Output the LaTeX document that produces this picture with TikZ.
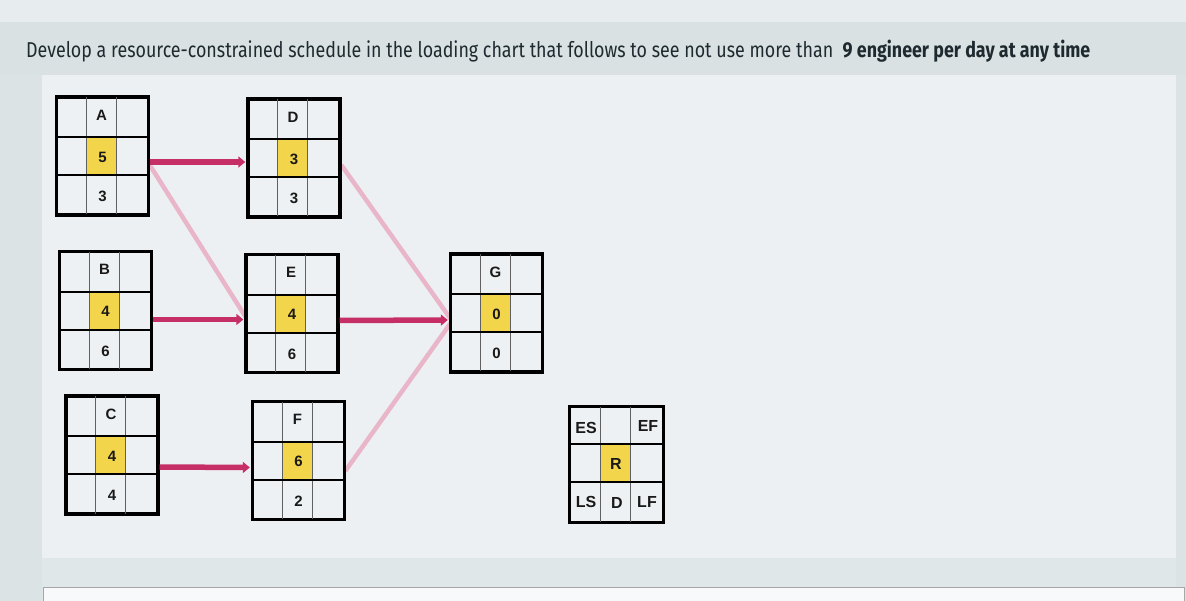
\documentclass[tikz,border=0pt]{standalone}
\usepackage{fontspec}
\usepackage{graphicx}
\setmainfont{Liberation Sans}
\newfontfamily\headfont{Fira Sans}
\usetikzlibrary{calc,arrows.meta}
\definecolor{bgtop}{HTML}{E7ECEE}
\definecolor{bghead}{HTML}{D9E1E3}
\definecolor{bgside}{HTML}{DCE3E5}
\definecolor{panel}{HTML}{EDF0F2}
\definecolor{cellbg}{HTML}{EEF1F3}
\definecolor{hilite}{HTML}{F2D54A}
\definecolor{magarrow}{HTML}{C52F66}
\definecolor{pinkline}{HTML}{E8B6C8}
\definecolor{txt}{HTML}{1E2A30}
\tikzset{
  actbox/.style={draw=black, line width=2.4pt, minimum width=91pt, minimum height=117pt, inner sep=0pt, fill=cellbg},
  colline/.style={draw=gray!75!black, line width=1.3pt},
  rowline/.style={draw=black, line width=2pt},
  celltxt/.style={font=\bfseries\fontsize{15}{15}\selectfont, text=black!90, inner sep=0pt},
  legtxt/.style={font=\bfseries\fontsize{16}{16}\selectfont, text=black!90, inner sep=0pt},
  strong/.style={draw=magarrow, line width=5.5pt, -{Triangle[length=7pt,width=11pt]}},
  weak/.style={draw=pinkline, line width=4.5pt, line cap=round},
}
% name, x, y, top, mid, bottom
\newcommand\actbox[6]{%
  \node[actbox] (#1) at (#2,#3) {};
  \fill[hilite] ($(#1.north west)+(31,42)$) rectangle ($(#1.north west)+(61,78)$);
  \draw[colline] ($(#1.north west)+(30.5,0)$) -- ($(#1.south west)+(30.5,0)$);
  \draw[colline] ($(#1.north west)+(60.5,0)$) -- ($(#1.south west)+(60.5,0)$);
  \draw[rowline] ($(#1.north west)+(0,41)$) -- ($(#1.north east)+(0,41)$);
  \draw[rowline] ($(#1.north west)+(0,79)$) -- ($(#1.north east)+(0,79)$);
  \draw[black, line width=2.4pt] (#1.north west) rectangle (#1.south east);
  \node[celltxt] (#1-t) at ($(#1.north)+(-1,19)$) {#4};
  \node[celltxt] (#1-m) at ($(#1.center)+(0,1)$) {#5};
  \node[celltxt] (#1-b) at ($(#1.south)+(0,-19)$) {#6};
}
\begin{document}
\begin{tikzpicture}[x=1pt,y=-1pt]
\useasboundingbox (0,0) rectangle (1186,601);
% background
\fill[bgtop] (0,0) rectangle (1186,601);
\fill[bghead] (0,22) rectangle (1186,75);
\fill[bgside] (0,75) rectangle (42,601);
\fill[bgside] (1176,75) rectangle (1186,601);
\fill[panel] (42,75) rectangle (1176,558);
\fill[bgside!60!bgtop] (42,558) rectangle (1176,601);
\fill[white!60!panel, draw=gray!70, line width=0.8pt] (43,587) rectangle (1184,610);
% heading
\node[anchor=base west, inner sep=0pt, text=txt] (title) at (26,58)
  {\resizebox{1064pt}{\height}{\headfont\fontsize{21.5}{21.5}\selectfont Develop a resource-constrained schedule in the loading chart that follows to see not use more than\ \ \textbf{9 engineer per day at any time}}};
% weak links
\coordinate (a1) at (151,167);
\coordinate (e1) at (245,316);
\coordinate (d1) at (342,166);
\coordinate (g1) at (450,318);
\coordinate (f1) at (346,470);
\coordinate (g2) at (450,324);
\draw[weak] (a1) -- (e1);
\draw[weak] (d1) -- (g1);
\draw[weak] (f1) -- (g2);
% boxes
\actbox{A}{102.5}{156}{A}{5}{3}
\actbox{D}{294}{158}{D}{3}{3}
\actbox{B}{105.5}{310.5}{B}{4}{6}
\actbox{E}{292}{313.5}{E}{4}{6}
\actbox{G}{496.5}{313}{G}{0}{0}
\actbox{C}{112}{455}{C}{4}{4}
\actbox{F}{298.5}{460.5}{F}{6}{2}
% legend box
\node[actbox, minimum width=93pt, minimum height=115pt] (L) at (616.5,464.5) {};
\fill[hilite] ($(L.north west)+(32,39)$) rectangle ($(L.north west)+(62,76)$);
\draw[colline] ($(L.north west)+(31.5,0)$) -- ($(L.south west)+(31.5,0)$);
\draw[colline] ($(L.north west)+(61.5,0)$) -- ($(L.south west)+(61.5,0)$);
\draw[rowline] ($(L.north west)+(0,38)$) -- ($(L.north east)+(0,38)$);
\draw[rowline] ($(L.north west)+(0,76)$) -- ($(L.north east)+(0,76)$);
\draw[black, line width=2.4pt] (L.north west) rectangle (L.south east);
\node[legtxt] (L-es) at (586,428) {ES};
\node[legtxt] (L-ef) at (648,426) {EF};
\node[legtxt] (L-r) at (616,464) {R};
\node[legtxt] (L-ls) at (586,502) {LS};
\node[legtxt] (L-d) at (617,503) {D};
\node[legtxt] (L-lf) at (647,502) {LF};
% strong links
\draw[strong] ($(A.east)+(1,6)$) -- ($(D.west)+(-2,4)$);
\draw[strong] ($(B.east)+(1,9)$) -- ($(E.west)+(-2,6)$);
\draw[strong] ($(E.east)+(1,7)$) -- ($(G.west)+(-2,7)$);
\draw[strong] ($(C.east)+(1,12)$) -- ($(F.west)+(-2,7)$);
\end{tikzpicture}
\end{document}
